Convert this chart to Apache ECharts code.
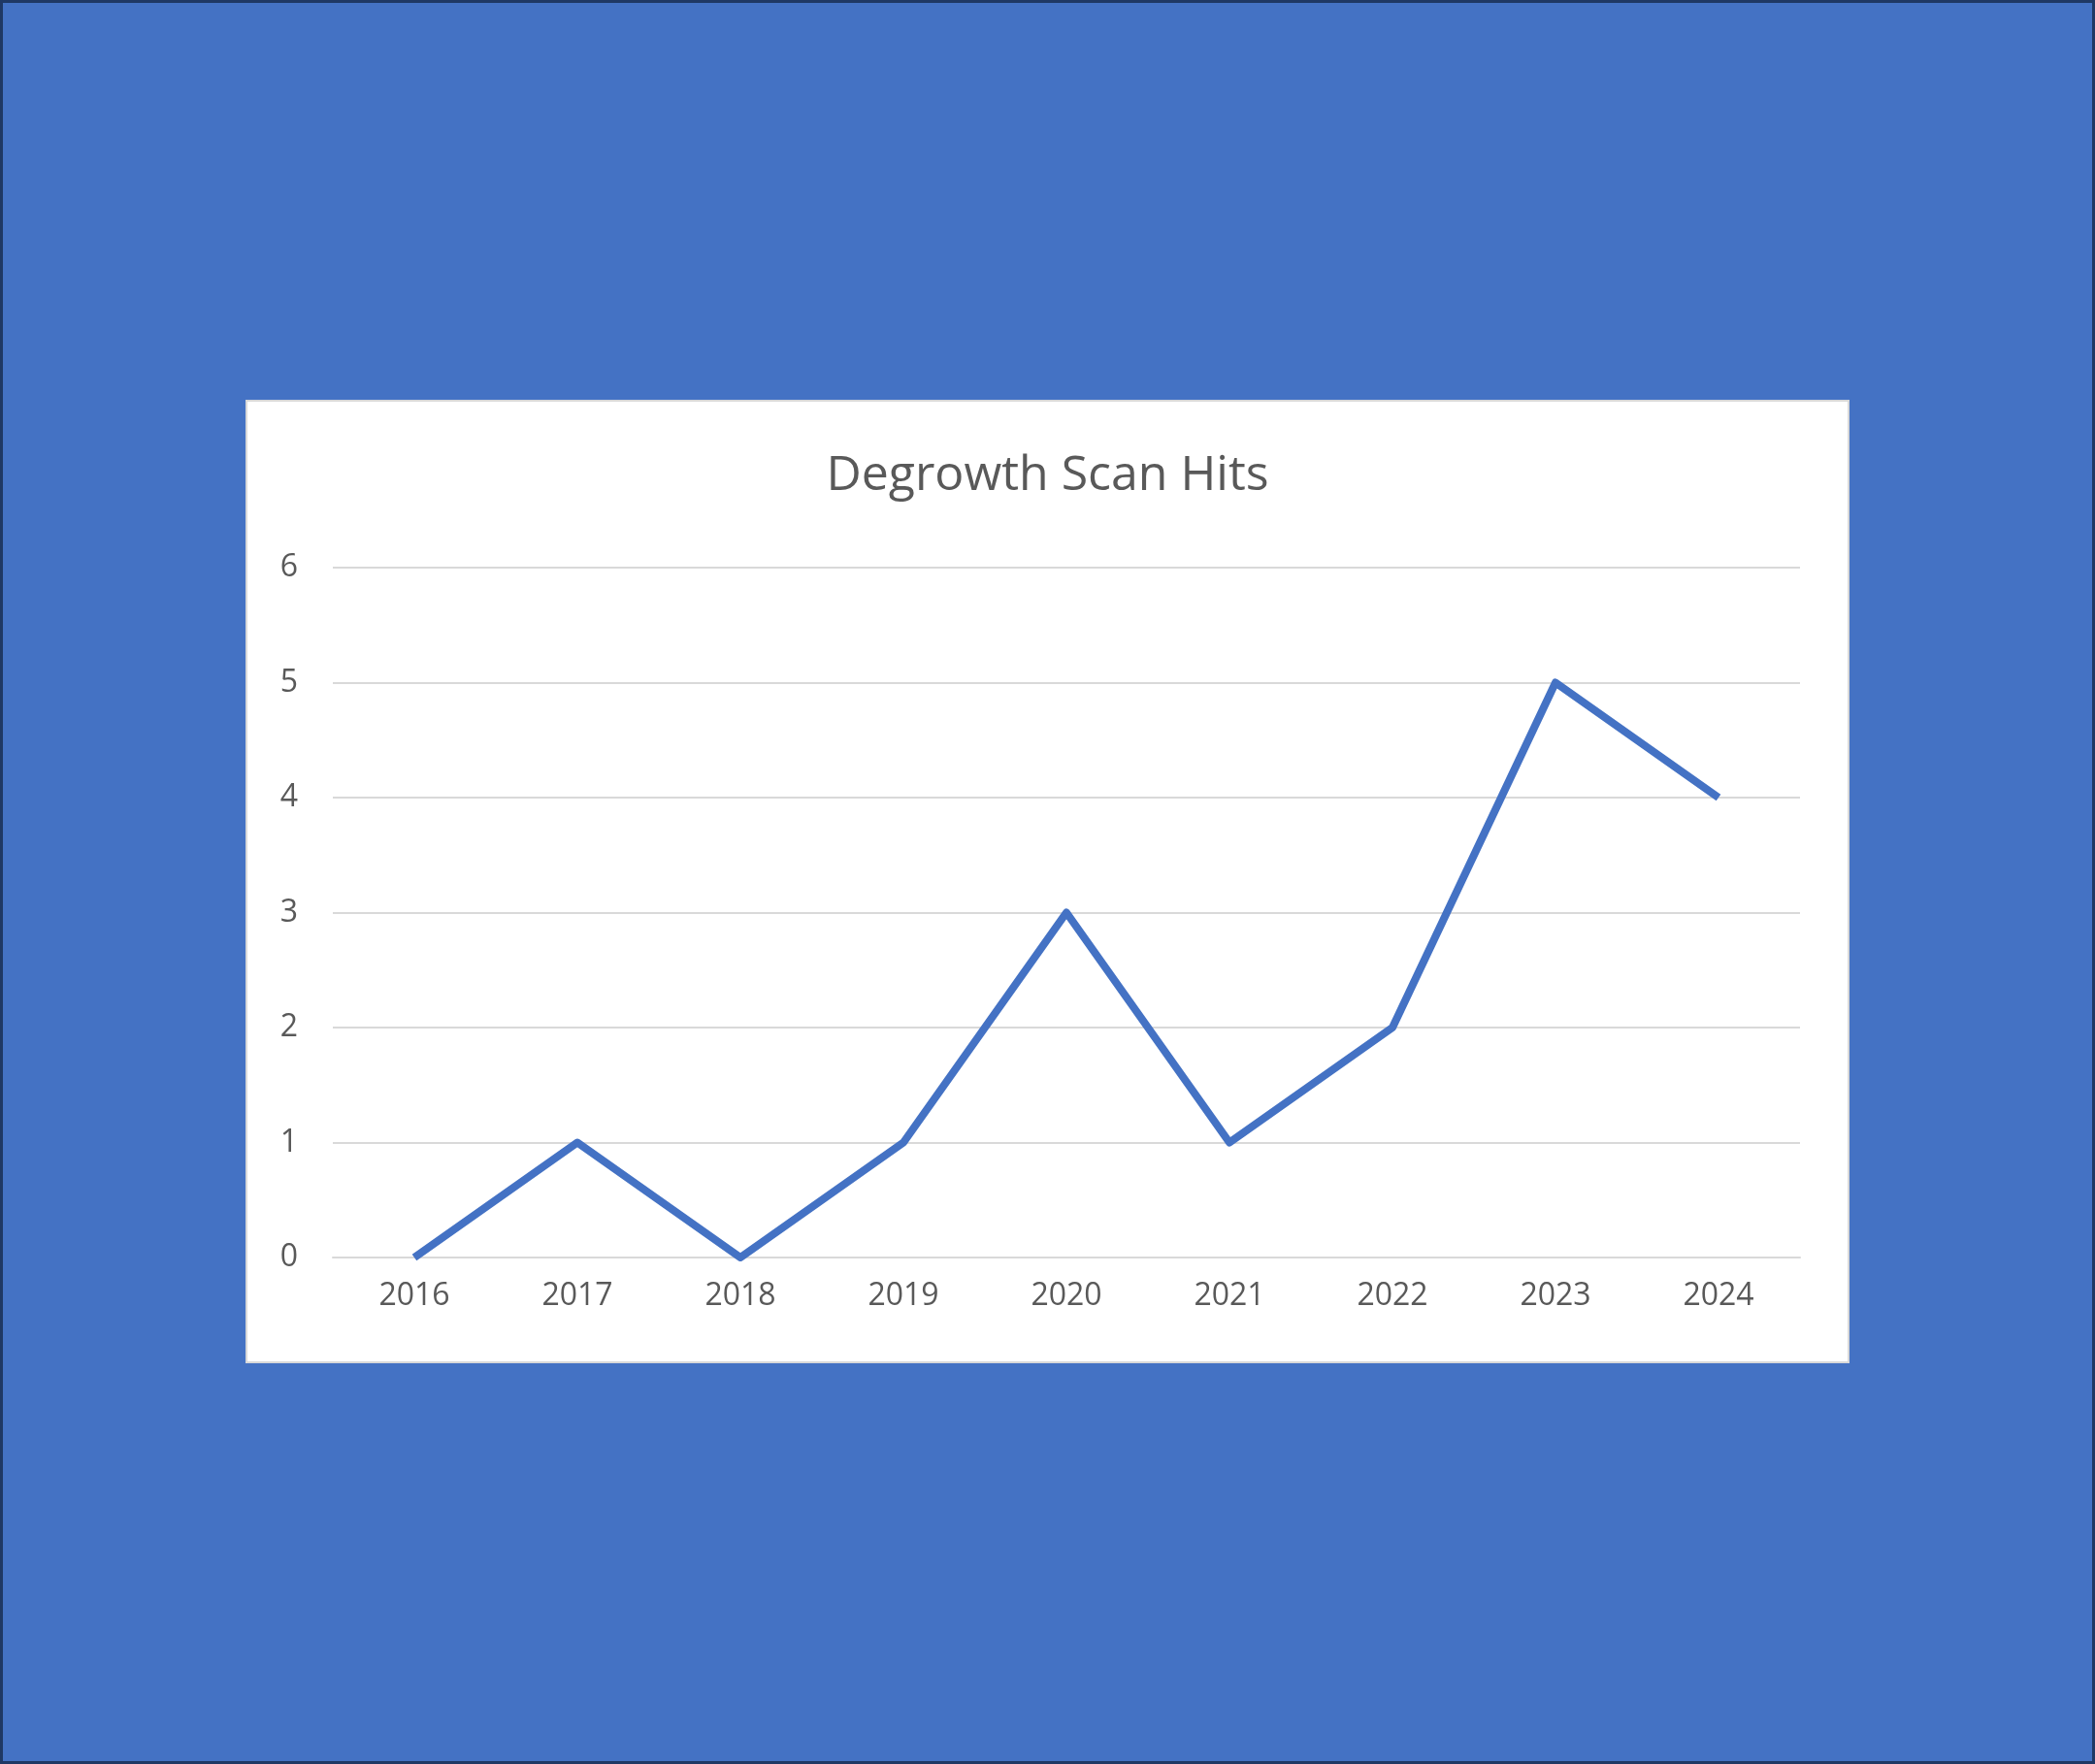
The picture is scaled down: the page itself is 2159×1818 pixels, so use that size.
<!DOCTYPE html>
<html>
<head>
<meta charset="utf-8">
<script src="https://cdn.jsdelivr.net/npm/echarts@6/dist/echarts.min.js"></script>
<style>
  html, body { margin: 0; padding: 0; background: #4472C4; }
  #chart { width: 2159px; height: 1818px; box-sizing: border-box; border: 3px solid #1F3864; }
</style>
</head>
<body>
<div id="chart"></div>
<script>
const years = ['2016', '2017', '2018', '2019', '2020', '2021', '2022', '2023', '2024']
const hits = [0, 1, 0, 1, 3, 1, 2, 5, 4]
const yTicks = [0, 1, 2, 3, 4, 5, 6]

var myChart = echarts.init(document.getElementById('chart'))
myChart.setOption({
    backgroundColor: '#4472C4',
    graphic: [{
        type: 'rect',
        left: 250, top: 409,
        shape: {width: 1651, height: 991},
        style: {fill: '#ffffff', stroke: '#D9D9D9', lineWidth: 2},
        z: -1
    }],
    title: {
        text: 'Degrowth Scan Hits',
        left: 'center',
        top: 458,
        textStyle: {color: '#595959', fontSize: 50, fontWeight: 'normal', fontFamily: 'Open Sans'}
    },
    grid: {left: 340, right: 301, top: 582, bottom: 519},
    xAxis: {
        type: 'category',
        data: years,
        boundaryGap: true,
        axisLine: {lineStyle: {color: '#D9D9D9', width: 2}},
        axisTick: {show: false},
        axisLabel: {color: '#595959', fontSize: 32, margin: 24, fontFamily: 'Open Sans'}
    },
    yAxis: {
        type: 'value',
        min: yTicks[0],
        max: yTicks[yTicks.length - 1],
        interval: 1,
        axisLine: {show: false},
        axisTick: {show: false},
        splitLine: {lineStyle: {color: '#D9D9D9', width: 2}},
        axisLabel: {color: '#595959', fontSize: 32, margin: 36, fontFamily: 'Open Sans'}
    },
    series: [{
        type: 'line',
        data: hits,
        symbol: 'none',
        lineStyle: {color: '#4472C4', width: 8, join: 'round'}
    }]
})
</script>
</body>
</html>
